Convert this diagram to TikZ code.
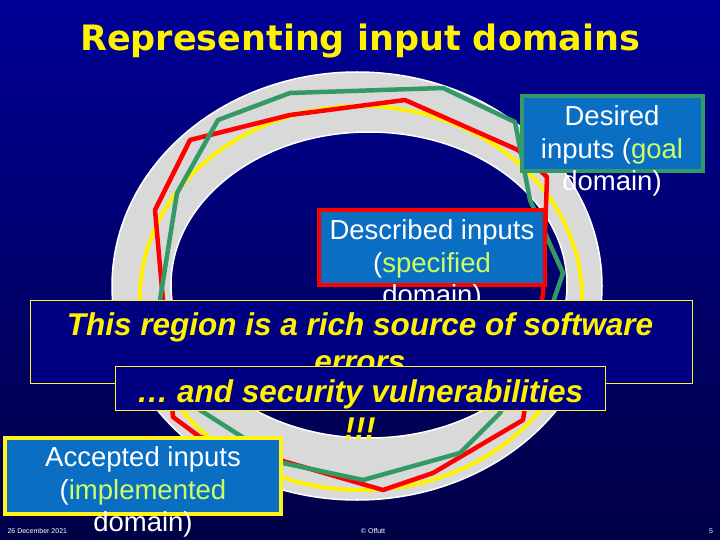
\documentclass[tikz,border=0pt]{standalone}
\usepackage{fontspec}
\setmainfont{Liberation Sans}
\newfontfamily\titlefont{DejaVu Sans}
\begin{document}
\begin{tikzpicture}[x=1pt,y=-1pt,
  box/.style={draw, line width=4pt, fill=boxblue, inner sep=0pt},
  bodytext/.style={text=white, font=\fontsize{27.5}{32.5}\selectfont, align=center, inner sep=0pt},
  banner/.style={draw=yellow!80!white, line width=1pt, fill=navy, inner sep=0pt},
  bantext/.style={text=yellow, font=\fontsize{31.5}{37}\selectfont\bfseries\itshape, align=center, inner sep=0pt}]
\definecolor{boxblue}{HTML}{0A6FC2}
\definecolor{navy}{HTML}{000080}
\definecolor{grn}{HTML}{339966}
\definecolor{ringgray}{HTML}{D9D9D9}
\definecolor{limey}{HTML}{CCFF66}
\useasboundingbox (0,0) rectangle (720,540);
\shade[top color={rgb,255:red,0;green,0;blue,150}, bottom color={rgb,255:red,0;green,0;blue,70}] (0,0) rectangle (720,540);
% ring
\path[fill=ringgray, draw=white, line width=1.5pt, even odd rule]
  (357,286) ellipse [x radius=245, y radius=214]
  (369,285) ellipse [x radius=198, y radius=153];
% yellow domain
\draw[yellow, line width=4pt] (361,298) ellipse [x radius=221, y radius=192];
% red domain
\draw[red, line width=4.5pt, line join=round] (518,150) -- (405,100) -- (290,115) -- (190,140) -- (155,210) -- (163,300) -- (173,417) -- (200,437) -- (383,490) -- (433,473) -- (523,420) -- (543,293) -- (547,177) -- cycle;
% green domain
\draw[grn, line width=4.5pt, line join=round] (218,120) -- (290,93) -- (443,88) -- (515,122) -- (530,200) -- (563,273) -- (547,320) -- (500,413) -- (460,453) -- (363,480) -- (283,463) -- (200,410) -- (160,300) -- (177,193) -- cycle;
% title
\node[text=yellow, font=\fontsize{35}{40}\selectfont\titlefont\bfseries] (title) at (360,41) {Representing input domains};
% desired
\node[box, draw=grn, minimum width=181pt, minimum height=75pt] (desbox) at (612,133.5) {};
\node[bodytext] (destext) at (612,151) {Desired\\inputs (\textcolor{limey}{goal}\\domain)};
% described
\node[box, draw=red, minimum width=226pt, minimum height=75pt] (dscbox) at (432,247.5) {};
\node[bodytext] (dsctext) at (432,265) {Described inputs\\(\textcolor{limey}{specified}\\domain)};
% banner 1
\node[banner, minimum width=662pt, minimum height=83pt] (ban1) at (361,341.5) {};
\node[bantext] (ban1text) at (360,343) {This region is a rich source of software\\errors};
% banner 2
\node[banner, minimum width=490pt, minimum height=44pt] (ban2) at (360,388) {};
\node[bantext] (ban2text) at (360,410) {\ldots{} and security vulnerabilities\\!!!};
% accepted
\node[box, draw=yellow!90!white, minimum width=276pt, minimum height=76pt] (accbox) at (143,476) {};
\node[bodytext] (acctext) at (143,492) {Accepted inputs\\(\textcolor{limey}{implemented}\\domain)};
% footer
\node[text=white, font=\fontsize{7}{8}\selectfont, anchor=west] (date) at (4,531) {26 December 2021};
\node[text=white, font=\fontsize{7}{8}\selectfont] (copy) at (373,531) {© Offutt};
\node[text=white, font=\fontsize{7}{8}\selectfont] (page) at (711,531) {5};
\end{tikzpicture}
\end{document}
